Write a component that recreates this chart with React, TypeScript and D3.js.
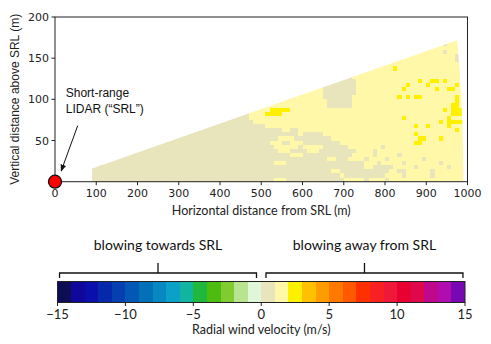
import React from 'react';
import * as d3 from 'd3';

// axis ticks
const xTicks = [0, 100, 200, 300, 400, 500, 600, 700, 800, 900, 1000];
const yTicks = [50, 100, 150, 200];
const cbTicks = [-15, -10, -5, 0, 5, 10, 15];

// colour of each 1 m/s bin from -15 to 15
const binColors = [
  '#0d0d55', '#10089a', '#0a0eaa', '#0628aa', '#0540b0', '#0258b4', '#0470b8', '#0888c0',
  '#0aa0c8', '#10b4a0', '#20b83c', '#4cbc10', '#80cc30', '#b8e490', '#e0f6d8',
  '#e8e4bc', '#fff8a8', '#fff000', '#ffc000', '#ff9c00', '#ff7800', '#ff5800', '#ff3000',
  '#f82020', '#f01838', '#e80030', '#e0084c', '#c0088c', '#b00cb0', '#7808b4',
];

// scan geometry (m, degrees)
const minRange = 90;
const maxRange = 990;
const maxElevation = 10;
const cellW = 10; // m, columns start at minRange
const cellH = 5; // m, rows start at 0

// velocity per code (m/s)
const codeVelocity: Record<string, number> = { b: 0.5, y: 1.5, Y: 2.5 };

// rows from top (165-170 m... ) down to 0-5 m, run-length coded, 90 columns each
const velocityRows = [
  'y90',
  'y85b1y4',
  'y90',
  'y85b1y4',
  'y88b1y1',
  'y88b1y1',
  'y90',
  'y73Y1y16',
  'y90',
  'b63y27',
  'b64y15Y1y2Y2y1Y1y4',
  'b64y12Y1y4Y1y6Y1y1',
  'b53y3b8y11Y1y7Y1y2Y2y2',
  'b51y5b8y26',
  'b48y8b7y11Y1y1Y1y1Y2y8Y1y1',
  'b45y12b6y25Y1y1',
  'b42y15b6y24Y2y1',
  'b39y4Y5y37Y1y1Y3',
  'b38y4Y4y41Y3',
  'b38y37Y1y10Y1y3',
  'b39y45Y1y1Y4',
  'b42y36Y1y2Y1y4Y1y3',
  'b46y2b2y38Y1y1',
  'b50y1b5y22Y1y11',
  'b45y4b9y21Y2y3Y1y5',
  'b43y3b2y3b9y18Y2y10',
  'b44y6b1y5b6y8b1y19',
  'b45y3b4y3b9y4b1y21',
  'b48y3b12y5b1y5b1y15',
  'b57y2b3y4b1y4b1y8b1y9',
  'b44y3b19y3b1y5b1y8b1y5',
  'b66y2b5y5b1y7b1y3',
  'b58y2b12y2b2y6b1y7',
  'b60y1b10y4b1y6b1y7',
  'b44y3b14y5b1y4b1y18',
];

const brackets = [
  { label: 'blowing towards SRL', from: -14.85, to: -0.35 },
  { label: 'blowing away from SRL', from: 0.35, to: 14.85 },
];

function decodeRow(s: string) {
  const out: string[] = [];
  const re = /([a-zA-Z])(\d+)/g;
  let m;
  while ((m = re.exec(s))) {
    for (let i = 0; i < +m[2]; i++) out.push(m[1]);
  }
  return out;
}

export default function App() {
  const W = 491, H = 344;
  const x = d3.scaleLinear().domain([0, 1000]).range([55, 467.5]);
  const y = d3.scaleLinear().domain([0, 200]).range([181.7, 17]);
  const cb = d3.scaleLinear().domain([-15, 15]).range([57.5, 465]);
  const color = d3.scaleQuantize<string>().domain([-15, 15]).range(binColors);
  const cbTop = 281.5, cbH = 21;

  const nRows = velocityRows.length;
  const cells: { x0: number; y0: number; v: number }[] = [];
  velocityRows.forEach((r, ri) => {
    const j = nRows - 1 - ri;
    decodeRow(r).forEach((c, k) => {
      cells.push({ x0: minRange + k * cellW, y0: j * cellH, v: codeVelocity[c] });
    });
  });

  const angles = d3.range(0, maxElevation + 0.001, 0.5);
  const rad = (a: number) => (a * Math.PI) / 180;
  const wedge = [
    ...angles.map(a => [x(maxRange * Math.cos(rad(a))), y(maxRange * Math.sin(rad(a)))]),
    ...angles.slice().reverse().map(a => [x(minRange * Math.cos(rad(a))), y(minRange * Math.sin(rad(a)))]),
  ];
  const wedgePath = 'M' + wedge.map(p => p.join(',')).join('L') + 'Z';

  const tickFont = { fontFamily: 'DejaVu Sans', fontSize: 11, fill: '#222' };
  const labelFont = { fontFamily: 'Lato', fontSize: 12.5, fill: '#222' };

  return (
    <svg width={W} height={H} style={{ position: 'absolute', left: 0, top: 0, background: '#fff' }}>
      <defs>
        <clipPath id="wedge">
          <path d={wedgePath} />
        </clipPath>
        <marker id="arrow" viewBox="0 0 10 10" refX="9" refY="5" markerWidth="7" markerHeight="7" orient="auto">
          <path d="M0,1 L10,5 L0,9 Z" fill="#111" />
        </marker>
      </defs>

      <g clipPath="url(#wedge)" shapeRendering="crispEdges">
        {cells.map((c, i) => (
          <rect key={i} x={x(c.x0)} y={y(c.y0 + cellH)} width={x(c.x0 + cellW) - x(c.x0) + 0.3}
            height={y(c.y0) - y(c.y0 + cellH) + 0.3} fill={color(c.v)} />
        ))}
      </g>

      {/* frame */}
      <rect x={x(0)} y={y(200)} width={x(1000) - x(0)} height={y(0) - y(200)} fill="none" stroke="#222" strokeWidth={1} />

      {xTicks.map(t => (
        <g key={t}>
          <line x1={x(t)} x2={x(t)} y1={y(0)} y2={y(0) + 3.5} stroke="#222" />
          <text x={x(t)} y={y(0) + 15} textAnchor="middle" {...tickFont}>{t}</text>
        </g>
      ))}
      {yTicks.map(t => (
        <g key={t}>
          <line x1={x(0) - 3.5} x2={x(0)} y1={y(t)} y2={y(t)} stroke="#222" />
          <text x={x(0) - 6} y={y(t) + 4} textAnchor="end" {...tickFont}>{t}</text>
        </g>
      ))}

      <text x={(x(0) + x(1000)) / 2} y={215} textAnchor="middle" {...labelFont}>Horizontal distance from SRL (m)</text>
      <text transform={`translate(19,${(y(0) + y(200)) / 2}) rotate(-90)`} textAnchor="middle"
        fontFamily="Liberation Sans" fontSize={12} fill="#222">Vertical distance above SRL (m)</text>

      {/* annotation */}
      <text x={x(26)} y={y(103)} fontFamily="Liberation Sans" fontSize={12} fill="#111">Short-range</text>
      <text x={x(26)} y={y(83.5)} fontFamily="Liberation Sans" fontSize={12} fill="#111">LIDAR (“SRL”)</text>
      <line x1={x(55)} y1={y(68)} x2={x(15)} y2={y(13)} stroke="#111" strokeWidth={1} markerEnd="url(#arrow)" />
      <circle cx={x(0)} cy={y(0)} r={6.5} fill="#f00" stroke="#111" strokeWidth={1.3} />

      {/* colour bar */}
      <g shapeRendering="crispEdges">
        {binColors.map((c, i) => (
          <rect key={i} x={cb(-15 + i)} y={cbTop} width={cb(-14 + i) - cb(-15 + i) + 0.4} height={cbH} fill={c} />
        ))}
      </g>
      <rect x={cb(-15)} y={cbTop} width={cb(15) - cb(-15)} height={cbH} fill="none" stroke="#222" strokeWidth={1} />
      {cbTicks.map(t => (
        <g key={t}>
          <line x1={cb(t)} x2={cb(t)} y1={cbTop + cbH} y2={cbTop + cbH + 3.5} stroke="#222" />
          <text x={cb(t)} y={cbTop + cbH + 16} textAnchor="middle" fontFamily="Lato" fontSize={13} fill="#222">
            {t < 0 ? '\u2212' + Math.abs(t) : t}
          </text>
        </g>
      ))}
      <text x={(cb(-15) + cb(15)) / 2} y={334} textAnchor="middle" {...labelFont}>Radial wind velocity (m/s)</text>

      {brackets.map(b => {
        const x0 = cb(b.from), x1 = cb(b.to), xm = (x0 + x1) / 2;
        const yl = 273;
        return (
          <g key={b.label}>
            <path d={`M${x0},${yl + 5}V${yl}H${x1}V${yl + 5}M${xm},${yl}V${yl - 10}`} fill="none" stroke="#111" strokeWidth={1.3} />
            <text x={xm} y={250} textAnchor="middle" fontFamily="Lato" fontSize={14} fill="#111">{b.label}</text>
          </g>
        );
      })}
    </svg>
  );
}
